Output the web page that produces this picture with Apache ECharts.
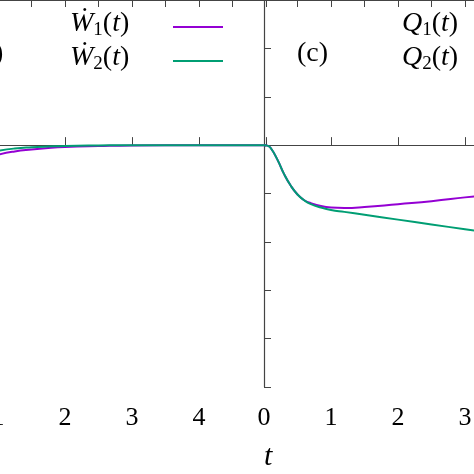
<!DOCTYPE html><html><head><meta charset="utf-8"><script src="https://cdn.jsdelivr.net/npm/echarts@6/dist/echarts.min.js"></script>
<style>html,body{margin:0;padding:0;background:#fff}#c{width:474px;height:474px}</style></head><body><div id="c"></div><script>
const tLeft=[0,0.5,1,1.25,1.5,1.75,2,2.5,3,4,5];
const w1=[-0.4,-0.2,-0.10,-0.065,-0.045,-0.03,-0.02,-0.01,-0.003,0,0];
const w2=[-0.3,-0.13,-0.06,-0.035,-0.022,-0.014,-0.008,-0.003,0,0,0];
const tRight=[0,0.05,0.1,0.2,0.3,0.4,0.5,0.6,0.7,0.85,1,1.2,1.5,2,2.5,3,3.2];
const q1=[0,-0.005,-0.03,-0.15,-0.3,-0.42,-0.51,-0.57,-0.6,-0.63,-0.645,-0.65,-0.64,-0.61,-0.58,-0.54,-0.525];
const q2=[0,-0.005,-0.03,-0.15,-0.3,-0.42,-0.51,-0.57,-0.61,-0.645,-0.67,-0.69,-0.72,-0.77,-0.82,-0.87,-0.89];
const F='"Liberation Serif","DejaVu Serif",serif';
const pts=(xs,ys)=>xs.map((x,i)=>[x,ys[i]]);
const ax={axisLine:{lineStyle:{color:'#444',width:1.2}},splitLine:{show:false}};
const xa=(g,hide0)=>({type:'value',gridIndex:g,min:0,max:5,interval:1,...ax,axisTick:{inside:true,length:8,lineStyle:{color:'#444'}},
 axisLabel:{color:'#000',fontFamily:F,fontSize:26,margin:18,formatter:v=>((v===5||(hide0&&v===0))?'':String(v))}});
const xaTop=g=>({type:'value',gridIndex:g,position:'top',min:0,max:5,interval:0.5,...ax,axisTick:{inside:true,length:7,lineStyle:{color:'#444'}},axisLabel:{show:false}});
const ya=(g)=>({type:'value',gridIndex:g,min:-2.5,max:1.5,interval:0.5,...ax,axisTick:{inside:true,length:7,lineStyle:{color:'#444'}},axisLabel:{show:false}});
const rich={a:{fontStyle:'italic',fontSize:28,fontFamily:F,color:'#000'},b:{fontSize:19,fontFamily:F,color:'#000',padding:[12,0,0,0]},c:{fontSize:28,fontFamily:F,color:'#000'}};
const legend=(s,n,x,y)=>({type:'text',left:x,top:y,style:{rich,text:`{a|${s}}{b|${n}}{c|(}{a|t}{c|)}`}});
const opt={animation:false,
grid:[{left:-69,width:335,top:0,bottom:87,outerBoundsMode:'none',containLabel:false},{left:264,width:335,top:0,bottom:87,outerBoundsMode:'none',containLabel:false}],
xAxis:[xa(0,true),xa(1,false),xaTop(0),xaTop(1)],
yAxis:[ya(0),ya(1)],
series:[
{type:'line',xAxisIndex:0,yAxisIndex:0,data:pts(tLeft,w1),smooth:true,showSymbol:false,lineStyle:{color:'#9400d3',width:2}},
{type:'line',xAxisIndex:0,yAxisIndex:0,data:pts(tLeft,w2),smooth:true,showSymbol:false,lineStyle:{color:'#009e73',width:2}},
{type:'line',xAxisIndex:1,yAxisIndex:1,data:pts(tRight,q1),smooth:true,showSymbol:false,lineStyle:{color:'#9400d3',width:2}},
{type:'line',xAxisIndex:1,yAxisIndex:1,data:pts(tRight,q2),smooth:true,showSymbol:false,lineStyle:{color:'#009e73',width:2}}],
graphic:[
{type:'text',left:-6,top:40,style:{text:')',fontSize:28,fontFamily:F,fill:'#000'}},
{type:'text',left:297,top:40,style:{text:'(c)',fontSize:28,fontFamily:F,fill:'#000'}},
{type:'text',left:264,top:442,style:{text:'t',fontStyle:'italic',fontSize:30,fontFamily:F,fill:'#000'}},
legend('Ẇ',1,70,10),legend('Ẇ',2,70,44),legend('Q',1,402,10),legend('Q',2,402,44),
{type:'line',shape:{x1:173,y1:27,x2:223,y2:27},style:{stroke:'#9400d3',lineWidth:2}},
{type:'line',shape:{x1:173,y1:61,x2:223,y2:61},style:{stroke:'#009e73',lineWidth:2}}
]};
echarts.init(document.getElementById('c')).setOption(opt);
</script></body></html>
